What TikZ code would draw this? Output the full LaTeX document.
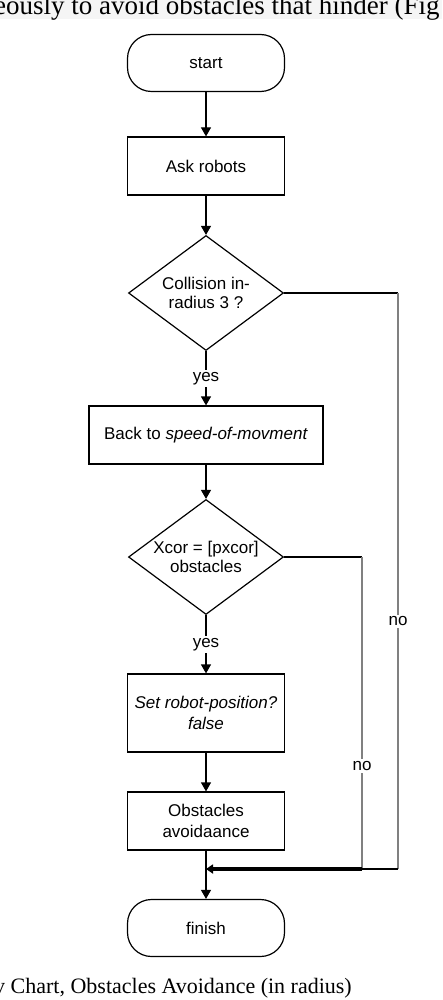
\documentclass[tikz,border=0pt]{standalone}
\usepackage{fontspec}
\setmainfont{Liberation Sans}
\newfontfamily\pageserif{Liberation Serif}
\usetikzlibrary{shapes.geometric, arrows.meta, positioning}

\newcommand{\dline}[1]{\makebox[0pt][c]{#1}}

\tikzset{
    terminal/.style={draw, line width=1.2pt, rounded corners=24pt, minimum width=157pt, minimum height=57pt, font=\fontsize{17}{20}\selectfont},
    process/.style={draw, line width=1.2pt, minimum height=58pt, align=center, font=\fontsize{17}{21}\selectfont},
    decision/.style={draw, line width=1.2pt, diamond, minimum width=155pt, minimum height=115pt, inner sep=0pt, align=center, font=\fontsize{17}{19}\selectfont},
    flow/.style={line width=1.2pt, -{Triangle[length=9pt, width=10pt]}},
    returnline/.style={line width=2pt, black!50},
    flowlabel/.style={fill=white, text=black, inner sep=2pt, font=\fontsize{17}{19}\selectfont}
}

\begin{document}
\begin{tikzpicture}[x=1pt, y=-1pt]
    \useasboundingbox (0,0) rectangle (442,1000);

    % === surrounding page text ===
    \fill[black!4] (0,0) rectangle (442,19);
    \node[anchor=base west, inner sep=0pt, font=\pageserif\fontsize{27}{29}\selectfont] (top) at (-6,15) {eously to avoid obstacles that hinder (Fig};
    \node[anchor=base west, inner sep=0pt, font=\pageserif\fontsize{22}{24}\selectfont] (cap) at (-6,993) {v Chart, Obstacles Avoidance (in radius)};

    % === flow chart ===
    \node[terminal] (start) at (206,63) {start};
    \node[process, minimum width=157pt] (ask) at (206,166) {Ask robots};
    \node[decision] (coll) at (206,293) {\dline{Collision in-}\\\dline{radius 3 ?}};
    \node[process, minimum width=234pt] (speed) at (206,435) {Back to \textit{speed-of-movment}};
    \node[decision] (xcor) at (206,557) {\dline{Xcor = [pxcor]}\\\dline{obstacles}};
    \node[process, minimum width=157pt, minimum height=78pt] (setpos) at (206,713) {\textit{Set robot-position?}\\\textit{false}};
    \node[process, minimum width=157pt] (avoid) at (206,821) {Obstacles\\avoidaance};
    \node[terminal] (finish) at (206,928) {finish};

    \coordinate (merge) at (206,869);
    \coordinate (c1) at (398,293);
    \coordinate (c1b) at (398,869);
    \coordinate (c2) at (362,557);
    \coordinate (c2b) at (362,869);

    \draw[flow] (start) -- (ask);
    \draw[flow] (ask) -- (coll);
    \draw[flow] (coll) -- node[flowlabel] {yes} (speed);
    \draw[flow] (speed) -- (xcor);
    \draw[flow] (xcor) -- node[flowlabel] {yes} (setpos);
    \draw[flow] (setpos) -- (avoid);
    \draw[flow] (avoid) -- (finish);

    % === no branches ===
    \draw[line width=1.2pt] (coll.east) -- (c1);
    \draw[returnline] (c1) -- node[flowlabel, pos=0.57] {no} (c1b);
    \draw[line width=1.2pt] (xcor.east) -- (c2);
    \draw[returnline] (c2) -- node[flowlabel, pos=0.67] {no} (c2b);
    \draw[line width=2pt] (c1b) -- (c2b);
    \draw[line width=3.5pt, -{Triangle[length=7pt, width=9pt]}] (c2b) -- (merge);
\end{tikzpicture}
\end{document}
